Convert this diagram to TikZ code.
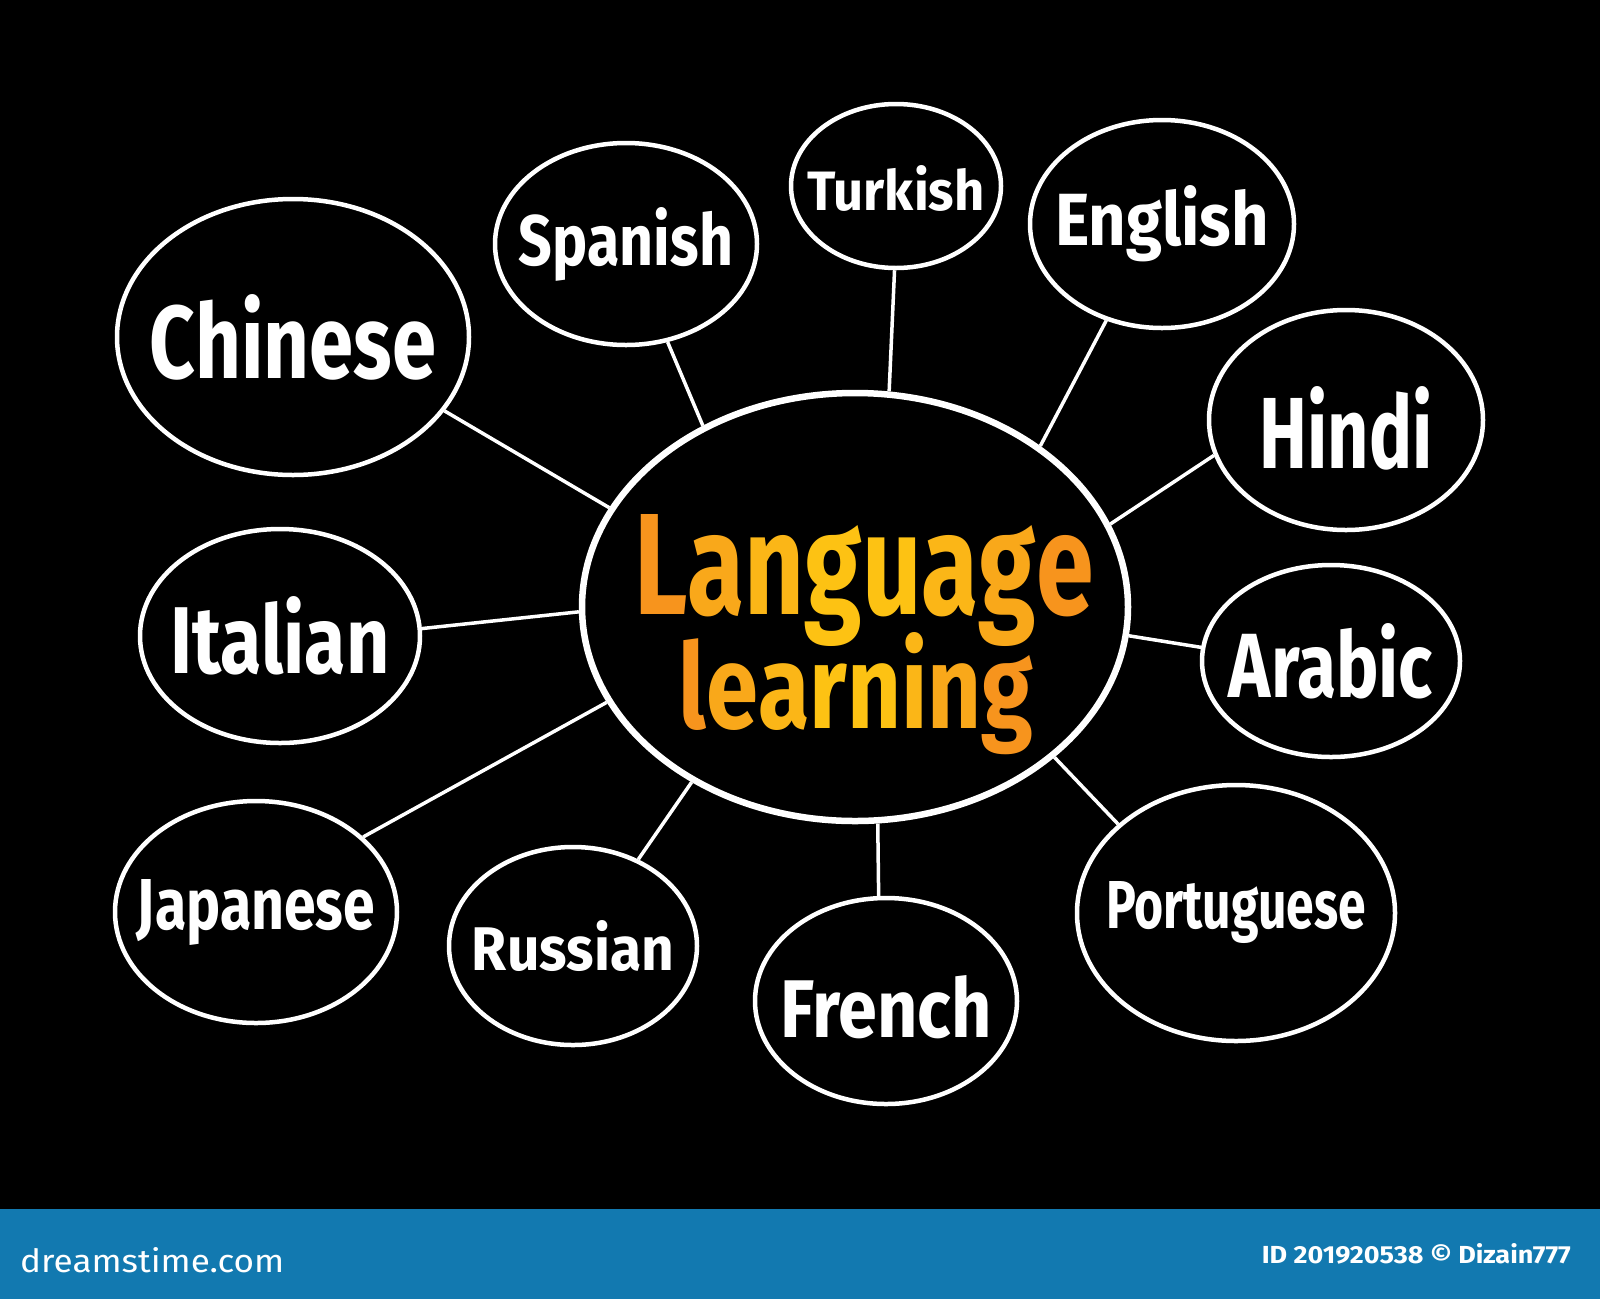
\documentclass[tikz,border=0pt]{standalone}
\usepackage{fontspec}
\setmainfont{Fira Sans}
\usepackage{graphicx}
\usetikzlibrary{shapes.geometric}
\definecolor{barblue}{HTML}{1279B0}
\definecolor{ca}{HTML}{F7941D}
\definecolor{cb}{HTML}{F9A81A}
\definecolor{cc}{HTML}{FBB617}
\definecolor{cd}{HTML}{FDC213}
\newcommand{\fitbox}[3]{\resizebox{#1pt}{#2pt}{\bfseries #3}}
\tikzset{
  bubble/.style={ellipse, draw=white, line width=4.5pt, fill=black, inner sep=0pt},
  lbl/.style={inner sep=0pt, text=white},
  link/.style={draw=white, line width=3.5pt},
}
\begin{document}
\begin{tikzpicture}[x=1pt,y=-1pt]
\fill[black] (0,0) rectangle (1600,1299);
\useasboundingbox (0,0) rectangle (1600,1299);
\fill[barblue] (0,1209) rectangle (1600,1299);

% bubbles
\node[bubble, line width=6.5pt, minimum width=546pt, minimum height=428pt] (main) at (855,607) {};
\node[bubble, minimum width=352pt, minimum height=276pt] (chinese) at (293,337) {};
\node[bubble, minimum width=262pt, minimum height=202pt] (spanish) at (626,244) {};
\node[bubble, minimum width=210pt, minimum height=164pt] (turkish) at (896,186) {};
\node[bubble, minimum width=264pt, minimum height=208pt] (english) at (1162,224) {};
\node[bubble, minimum width=274pt, minimum height=220pt] (hindi) at (1346,420) {};
\node[bubble, minimum width=258pt, minimum height=192pt] (arabic) at (1331,661) {};
\node[bubble, minimum width=318pt, minimum height=256pt] (portuguese) at (1236,913) {};
\node[bubble, minimum width=262pt, minimum height=206pt] (french) at (886,1001) {};
\node[bubble, minimum width=248pt, minimum height=198pt] (russian) at (573,946) {};
\node[bubble, minimum width=282pt, minimum height=222pt] (japanese) at (256,912) {};
\node[bubble, minimum width=280pt, minimum height=214pt] (italian) at (280,636) {};

% connectors
\draw[link] (main.158) -- (chinese.-26);
\draw[link] (main.130) -- (spanish.-67);
\draw[link] (main.81) -- (turkish.-91);
\draw[link] (main.41) -- (english.-120);
\draw[link] (main.18) -- (hindi.195);
\draw[link] (main.-6.5) -- (arabic.174);
\draw[link] (main.-37) -- (portuguese.143);
\draw[link] (main.-84) -- (french.94);
\draw[link] (main.-133) -- (russian.53);
\draw[link] (main.-159) -- (japanese.35);
\draw[link] (main.181.5) -- (italian.3);

% labels
\node[lbl] (tchinese) at (chinese) {\fitbox{286}{84}{Chinese}};
\node[lbl] (tspanish) at (spanish) {\fitbox{214}{58}{Spanish}};
\node[lbl] (tturkish) at ([yshift=-2pt]turkish.center) {\fitbox{177}{45}{Turkish}};
\node[lbl] (tenglish) at (english) {\fitbox{214}{60}{English}};
\node[lbl] (thindi) at ([yshift=-8pt]hindi.center) {\fitbox{173}{82}{Hindi}};
\node[lbl] (tarabic) at (arabic) {\fitbox{204}{74}{Arabic}};
\node[lbl] (tportuguese) at (portuguese) {\fitbox{260}{47}{Portuguese}};
\node[lbl] (tfrench) at ([yshift=-6pt]french.center) {\fitbox{211}{62}{French}};
\node[lbl] (trussian) at (russian) {\fitbox{202}{50}{Russian}};
\node[lbl] (tjapanese) at (japanese) {\fitbox{238}{50}{Japanese}};
\node[lbl] (titalian) at (italian) {\fitbox{219}{77}{Italian}};

% central text
\node[lbl, anchor=base] (tlang) at (864,614) {\fitbox{459}{100}{\textcolor{ca}{L}\textcolor{cb}{a}\textcolor{cc}{n}\textcolor{cd}{g}\textcolor{cd}{u}\textcolor{cc}{a}\textcolor{cb}{g}\textcolor{ca}{e}}};
\node[lbl, anchor=base] (tlearn) at (856,728) {\fitbox{355}{96}{\textcolor{ca}{l}\textcolor{cb}{e}\textcolor{cc}{a}\textcolor{cd}{r}\textcolor{cd}{n}\textcolor{cc}{i}\textcolor{cb}{n}\textcolor{ca}{g}}};

% footer
\node[lbl, anchor=base west] (logo) at (20,1272) {\resizebox{264pt}{25pt}{dreamstime.com}};
\node[lbl, anchor=base east] (imgid) at (1571,1263) {\fitbox{309}{20}{ID 201920538 © Dizain777}};
\end{tikzpicture}
\end{document}
